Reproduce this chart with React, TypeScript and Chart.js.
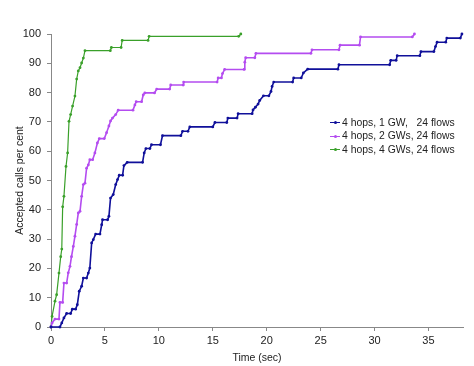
import React, { useEffect, useRef } from "react";
import { Chart, registerables } from "chart.js";

Chart.register(...registerables);

const blueX = [0, 0.83, 1.0, 1.2, 1.45, 1.82, 1.98, 2.28, 2.44, 2.62, 2.84, 3.0, 3.3, 3.46, 3.6, 3.77, 3.92, 4.14, 4.54, 4.7, 4.78, 5.25, 5.37, 5.52, 5.77, 6.0, 6.17, 6.33, 6.64, 6.76, 7.07, 8.49, 8.64, 8.8, 9.17, 9.32, 10.15, 10.34, 12.04, 12.2, 12.7, 12.87, 15.0, 15.2, 16.3, 16.4, 17.25, 17.35, 18.65, 18.73, 18.95, 19.2, 19.35, 19.7, 20.2, 20.4, 20.5, 20.65, 22.4, 22.5, 23.2, 23.4, 23.8, 26.6, 26.7, 31.4, 31.5, 32.0, 32.1, 34.2, 34.3, 35.5, 35.65, 35.8, 36.6, 36.7, 37.95, 38.1];
const blueY = [0, 0, 1.4, 3.1, 4.6, 4.6, 6.1, 6.1, 7.6, 12.2, 13.9, 16.7, 16.7, 18.4, 20.1, 28.7, 29.8, 31.7, 31.7, 34.9, 36.6, 36.6, 37.8, 44, 45.2, 48.6, 50.3, 51.8, 51.8, 55.1, 56.2, 56.2, 59.4, 60.9, 60.9, 62.2, 62.2, 65.3, 65.3, 66.8, 66.8, 68.3, 68.3, 69.8, 69.8, 71.3, 71.3, 72.8, 72.8, 74.1, 75.0, 76.1, 77.3, 78.9, 78.9, 80.4, 82.1, 83.6, 83.6, 85.0, 85.0, 86.7, 88.0, 88.0, 89.5, 89.5, 91.0, 91.0, 92.6, 92.6, 94.0, 94.0, 95.7, 97.2, 97.2, 98.6, 98.6, 100];

const magentaX = [0, 0.1, 0.37, 0.74, 0.83, 1.08, 1.2, 1.45, 1.6, 1.76, 1.9, 2.07, 2.22, 2.38, 2.53, 2.69, 2.84, 3.0, 3.15, 3.3, 3.46, 3.6, 3.86, 4.07, 4.3, 4.48, 4.94, 5.15, 5.37, 5.52, 5.7, 6.0, 6.23, 7.6, 7.78, 7.9, 8.4, 8.55, 8.7, 9.6, 9.8, 11.0, 11.1, 12.25, 12.3, 15.4, 15.5, 15.8, 15.9, 16.1, 17.9, 17.97, 18.05, 18.9, 19.0, 24.1, 24.2, 26.7, 26.8, 28.6, 28.7, 33.5, 33.7];
const magentaY = [0, 1.4, 2.7, 2.7, 8.4, 8.4, 15, 15, 18.5, 20.7, 24, 27.5, 31, 35, 38.9, 39.5, 44.6, 48.6, 49.1, 54.2, 55.3, 57.1, 57.1, 59.4, 62.8, 64.3, 64.3, 66.3, 68.6, 70.3, 71.3, 72.5, 74, 74, 75.8, 76.9, 76.9, 79.2, 79.9, 79.9, 81.2, 81.2, 82.6, 82.6, 83.6, 83.6, 85.0, 85.0, 86.5, 87.9, 87.9, 90.4, 91.9, 91.9, 93.4, 93.4, 94.6, 94.6, 96.2, 96.2, 99.0, 99.0, 100];

const greenX = [0, 0.1, 0.37, 0.52, 0.74, 0.9, 1.0, 1.08, 1.2, 1.39, 1.54, 1.67, 1.82, 2.0, 2.22, 2.38, 2.53, 2.69, 2.84, 3.0, 3.15, 5.5, 5.6, 6.5, 6.6, 9.0, 9.1, 17.4, 17.6];
const greenY = [0, 3.6, 8.8, 11, 18.4, 24, 26.6, 41, 44.6, 54.8, 59.4, 70.2, 72.5, 75.4, 78.8, 84.6, 87.4, 88.5, 90.1, 91.8, 94.3, 94.3, 95.4, 95.4, 97.8, 97.8, 99.2, 99.2, 100];

const seriesLabels = ["4 hops, 1 GW,   24 flows", "4 hops, 2 GWs, 24 flows", "4 hops, 4 GWs, 24 flows"];
const seriesColors = ["#10109a", "#b44cf0", "#3aa02a"];
const xTitle = "Time (sec)";
const yTitle = "Accepted calls per cent";

const toPts = (xs: number[], ys: number[]) => xs.map((x, i) => ({ x, y: ys[i] }));

export default function App() {
  const ref = useRef<HTMLCanvasElement | null>(null);
  useEffect(() => {
    if (!ref.current) return;
    const sets = [toPts(blueX, blueY), toPts(magentaX, magentaY), toPts(greenX, greenY)];
    const font = "'Liberation Sans', Arial, sans-serif";
    const chart = new Chart(ref.current, {
      type: "line",
      data: {
        datasets: sets.map((d, i) => ({
          label: seriesLabels[i],
          data: d,
          borderColor: seriesColors[i],
          backgroundColor: seriesColors[i],
          borderWidth: i === 2 ? 1.2 : 1.6,
          pointRadius: 1.4,
          pointBorderWidth: 0,
          tension: 0,
          clip: false as any,
        })),
      },
      options: {
        animation: false,
        responsive: false,
        maintainAspectRatio: false,
        layout: { padding: { left: 0, top: 34, right: 11, bottom: 0 } },
        plugins: { legend: { display: false }, tooltip: { enabled: false } },
        scales: {
          x: {
            type: "linear",
            min: 0,
            max: 38.2,
            afterFit: (s: any) => { s.height = 39; },
            ticks: { stepSize: 5, includeBounds: false, color: "#222", font: { family: font, size: 11 }, padding: 3, maxRotation: 0 },
            grid: { display: true, drawOnChartArea: false, drawTicks: true, tickLength: 4, color: "#888" },
            border: { color: "#888", width: 1 },
            title: { display: true, text: xTitle, color: "#222", font: { family: font, size: 10.5 }, padding: { top: 0, bottom: 2 } },
          },
          y: {
            min: 0,
            max: 100,
            afterFit: (s: any) => { s.width = 51; },
            ticks: { stepSize: 10, color: "#222", font: { family: font, size: 11 }, padding: 6 },
            grid: { display: true, drawOnChartArea: false, drawTicks: true, tickLength: 4, color: "#888" },
            border: { color: "#888", width: 1 },
            title: { display: true, text: yTitle, color: "#222", font: { family: font, size: 10.5 }, padding: { top: 14, bottom: 0 } },
          },
        },
      },
    });
    return () => chart.destroy();
  }, []);

  return (
    <div style={{ position: "absolute", left: 0, top: 0, width: 474, height: 366, background: "#fff" }}>
      <canvas ref={ref} width={474} height={366} style={{ width: 474, height: 366, display: "block" }} />
      <div style={{ position: "absolute", left: 330, top: 115.5, fontFamily: "'Liberation Sans', Arial, sans-serif", fontSize: 10.4, color: "#222", lineHeight: "13.8px" }}>
        {seriesLabels.map((l, i) => (
          <div key={i} style={{ display: "flex", alignItems: "center", whiteSpace: "pre" }}>
            <span style={{ position: "relative", display: "inline-block", width: 10, height: 2, marginRight: 2 }}>
              <span style={{ position: "absolute", left: 0, top: 0.5, width: 10, height: 1, background: seriesColors[i] }} />
              <span style={{ position: "absolute", left: 3.5, top: -0.5, width: 3, height: 3, borderRadius: 2, background: seriesColors[i] }} />
            </span>
            <span>{l}</span>
          </div>
        ))}
      </div>
    </div>
  );
}
